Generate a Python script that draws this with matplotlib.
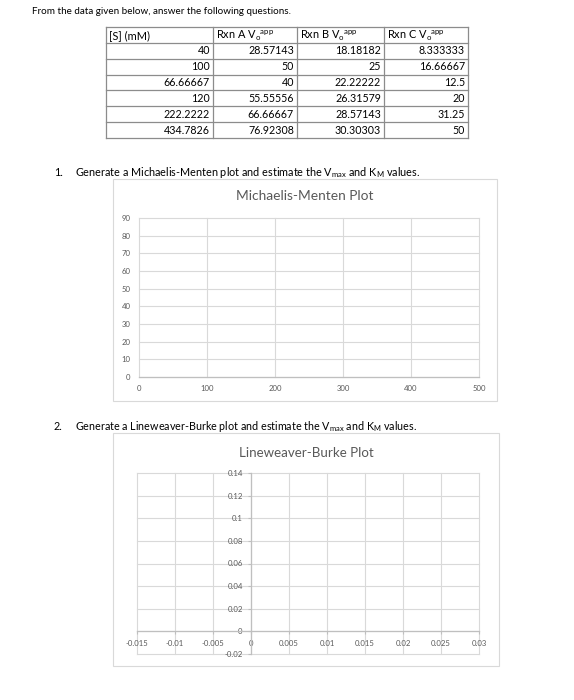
import matplotlib
matplotlib.use('Agg')
import matplotlib.pyplot as plt
from matplotlib.patches import Rectangle
from matplotlib.lines import Line2D
from matplotlib.ticker import FixedLocator, FuncFormatter

plt.rcParams['font.family'] = ['Lato', 'DejaVu Sans']
plt.rcParams['mathtext.fontset'] = 'custom'
plt.rcParams['mathtext.rm'] = 'Lato'
plt.rcParams['mathtext.it'] = 'Lato:italic'
plt.rcParams['mathtext.bf'] = 'Lato:bold'

# ---------------- data ----------------
header_text = "From the data given below, answer the following questions."
table_columns = ["[S] (mM)",
                 r"Rxn A V$_\mathregular{o}{}^\mathregular{app}$",
                 r"Rxn B V$_\mathregular{o}{}^\mathregular{app}$",
                 r"Rxn C V$_\mathregular{o}{}^\mathregular{app}$"]
substrate_mM = [40, 100, 66.66667, 120, 222.2222, 434.7826]
rxn_a = [28.57143, 50, 40, 55.55556, 66.66667, 76.92308]
rxn_b = [18.18182, 25, 22.22222, 26.31579, 28.57143, 30.30303]
rxn_c = [8.333333, 16.66667, 12.5, 20, 31.25, 50]

q1_text = r"Generate a Michaelis-Menten plot and estimate the V$_\mathregular{max}$ and K$_\mathregular{M}$ values."
q2_text = r"Generate a Lineweaver-Burke plot and estimate the V$_\mathregular{max}$ and K$_\mathregular{M}$ values."
mm_title = "Michaelis-Menten Plot"
lb_title = "Lineweaver-Burke Plot"
mm_xticks = [0, 100, 200, 300, 400, 500]
mm_yticks = [0, 10, 20, 30, 40, 50, 60, 70, 80, 90]
lb_xticks = [-0.015, -0.01, -0.005, 0, 0.005, 0.01, 0.015, 0.02, 0.025, 0.03]
lb_yticks = [-0.02, 0, 0.02, 0.04, 0.06, 0.08, 0.1, 0.12, 0.14]

# ---------------- figure ----------------
W, H = 574, 700
fig = plt.figure(figsize=(W / 100, H / 100), dpi=100)
fig.patch.set_facecolor('white')
renderer = fig.canvas.get_renderer()


def fx(x):
    return x / W


def fy(y):
    return 1 - y / H


def fit_width(t, target):
    bb = t.get_window_extent(renderer)
    t.set_fontsize(t.get_fontsize() * target / bb.width)


def size_for(sample, target):
    t = fig.text(0, 0, sample, fontsize=10)
    w = t.get_window_extent(renderer).width
    t.remove()
    return 10 * target / w


# header
t = fig.text(fx(32), fy(11), header_text, ha='left', va='center', fontsize=8, color='black')
fit_width(t, 261)

# table
col_x = [106, 213, 297, 384, 468]
row_top = 27
row_h = [16] + [15.83] * 6
row_y = [row_top]
for h in row_h:
    row_y.append(row_y[-1] + h)
tcolor = '#8c8c8c'
for yv in row_y:
    fig.add_artist(Line2D([fx(col_x[0]), fx(col_x[-1])], [fy(yv), fy(yv)], color=tcolor, lw=0.9))
for xv in col_x:
    fig.add_artist(Line2D([fx(xv), fx(xv)], [fy(row_y[0]), fy(row_y[-1])], color=tcolor, lw=0.9))

tab_fs = size_for("18.18182", 46)
head_fs = tab_fs * 1.03
for j, name in enumerate(table_columns):
    fig.text(fx(col_x[j] + 3), fy((row_y[0] + row_y[1]) / 2 + 0.5), name, ha='left', va='center',
             fontsize=head_fs, color='black')
for i in range(len(substrate_mM)):
    vals = [substrate_mM[i], rxn_a[i], rxn_b[i], rxn_c[i]]
    yc = (row_y[i + 1] + row_y[i + 2]) / 2
    for j, v in enumerate(vals):
        fig.text(fx(col_x[j + 1] - 3), fy(yc), '{:.7g}'.format(v), ha='right', va='center',
                 fontsize=tab_fs, color='black')

# questions
t1 = fig.text(fx(75), fy(172), q1_text, ha='left', va='center', fontsize=7.3, color='black')
fit_width(t1, 345)
fig.text(fx(54), fy(172), "1.", ha='left', va='center', fontsize=t1.get_fontsize(), color='black')
t2 = fig.text(fx(75), fy(427), q2_text, ha='left', va='center', fontsize=7.3, color='black')
fit_width(t2, 341)
fig.text(fx(54), fy(427), "2.", ha='left', va='center', fontsize=t2.get_fontsize(), color='black')

grid_c = '#d9d9d9'
axis_c = '#bfbfbf'
lab_c = '#595959'
tick_fs = size_for("100", 13.5)

# chart borders
fig.add_artist(Rectangle((fx(113), fy(401)), fx(497) - fx(113), fy(179) - fy(401),
                         transform=fig.transFigure, fill=False, edgecolor=grid_c, lw=0.8))
fig.add_artist(Rectangle((fx(113), fy(666)), fx(499) - fx(113), fy(433) - fy(666),
                         transform=fig.transFigure, fill=False, edgecolor=grid_c, lw=0.8))

# titles
t = fig.text(fx(305), fy(196), mm_title, ha='center', va='center', fontsize=10, color=lab_c)
fit_width(t, 137)
t = fig.text(fx(306), fy(453), lb_title, ha='center', va='center', fontsize=10, color=lab_c)
fit_width(t, 135)

# ---- Michaelis-Menten axes ----
ax1 = fig.add_axes([fx(139), fy(377), fx(479) - fx(139), fy(218) - fy(377)])
ax1.set_facecolor('none')
ax1.set_xlim(mm_xticks[0], mm_xticks[-1])
ax1.set_ylim(mm_yticks[0], mm_yticks[-1])
ax1.xaxis.set_major_locator(FixedLocator(mm_xticks))
ax1.yaxis.set_major_locator(FixedLocator(mm_yticks))
ax1.grid(True, color=grid_c, lw=0.8)
ax1.set_axisbelow(True)
for s in ['top', 'right', 'left']:
    ax1.spines[s].set_visible(False)
ax1.spines['bottom'].set_color(axis_c)
ax1.spines['bottom'].set_linewidth(0.9)
ax1.tick_params(axis='both', length=0, labelsize=tick_fs, labelcolor=lab_c)
ax1.tick_params(axis='y', pad=6)
ax1.tick_params(axis='x', pad=6)
for gl in ax1.get_xgridlines() + ax1.get_ygridlines():
    gl.set_clip_on(False)


# ---- Lineweaver-Burke axes ----
def excel_fmt(v, pos=None):
    s = '{:.3f}'.format(v).rstrip('0').rstrip('.')
    if s in ('-0', '', '-'):
        s = '0'
    return s


ax2 = fig.add_axes([fx(137), fy(654), fx(479) - fx(137), fy(473) - fy(654)])
ax2.set_facecolor('none')
ax2.set_xlim(lb_xticks[0], lb_xticks[-1])
ax2.set_ylim(lb_yticks[0], lb_yticks[-1])
ax2.xaxis.set_major_locator(FixedLocator(lb_xticks))
ax2.yaxis.set_major_locator(FixedLocator(lb_yticks))
ax2.xaxis.set_major_formatter(FuncFormatter(excel_fmt))
ax2.yaxis.set_major_formatter(FuncFormatter(excel_fmt))
ax2.grid(True, color=grid_c, lw=0.8)
ax2.set_axisbelow(True)
ax2.spines['top'].set_visible(False)
ax2.spines['right'].set_visible(False)
ax2.spines['left'].set_position(('data', 0))
ax2.spines['bottom'].set_position(('data', 0))
for s in ['left', 'bottom']:
    ax2.spines[s].set_color(axis_c)
    ax2.spines[s].set_linewidth(0.9)
ax2.tick_params(axis='both', direction='out', length=2.5, width=0.8, color=axis_c,
                labelsize=tick_fs, labelcolor=lab_c)
ax2.tick_params(axis='y', pad=3.5)
ax2.tick_params(axis='x', pad=3.5)
for gl in ax2.get_xgridlines() + ax2.get_ygridlines():
    gl.set_clip_on(False)

fig.savefig('out.png', dpi=100, facecolor='white')
